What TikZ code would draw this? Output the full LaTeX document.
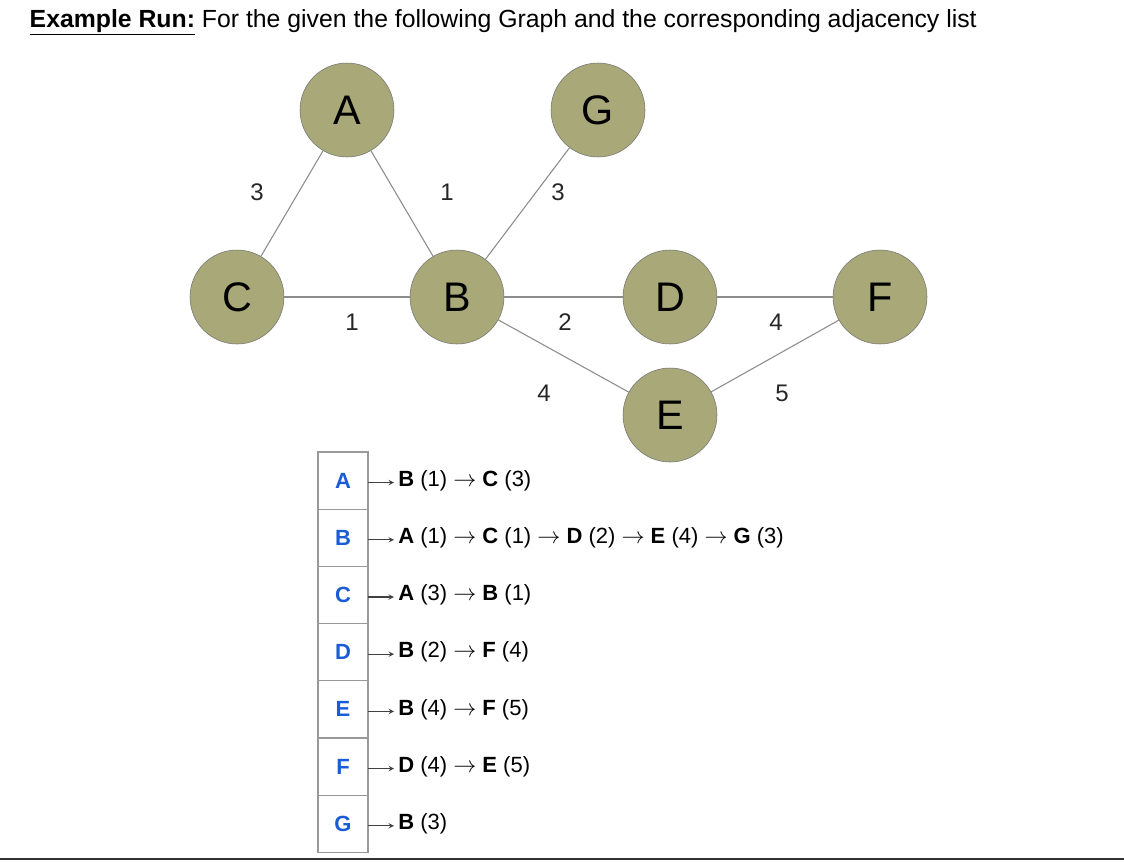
\documentclass[tikz,border=0pt]{standalone}
\usepackage{fontspec}
\setmainfont{Liberation Sans}
\begin{document}
\begin{tikzpicture}[x=0.75pt,y=-0.75pt,
  vert/.style={circle,draw=black!55,fill=olivec,minimum size=70.5pt,inner sep=0pt,font=\fontsize{31}{31}\selectfont},
  edge/.style={draw=black!45,line width=0.8pt},
  wlab/.style={font=\fontsize{18}{18}\selectfont,text=black!85},
  cell/.style={draw=black!40,line width=0.9pt,minimum width=37.5pt,minimum height=43pt,inner sep=0pt,text=cellblue,font=\fontsize{16.5}{16.5}\selectfont\bfseries},
  row/.style={anchor=west,font=\fontsize{16.5}{16.5}\selectfont,inner sep=0pt},
  arr/.style={draw=black!75,line width=0.8pt,-stealth}]
\definecolor{olivec}{HTML}{A8A878}
\definecolor{cellblue}{HTML}{1A5CD6}
\useasboundingbox (0,0) rectangle (1124,861);
\node[anchor=west,font=\fontsize{18.6}{18.6}\selectfont] (title) at (25,22) {\underline{\textbf{Example Run:}} For the given the following Graph and the corresponding adjacency list};
\node[vert] (A) at (347,110) {A};
\node[vert] (G) at (598,110) {G};
\node[vert] (C) at (237,297) {C};
\node[vert] (B) at (457,297) {B};
\node[vert] (D) at (670,297) {D};
\node[vert] (F) at (880,297) {F};
\node[vert] (E) at (670,415) {E};
\draw[edge] (A)--(C); \draw[edge] (A)--(B); \draw[edge] (B)--(G);
\draw[edge] (C)--(B); \draw[edge] (B)--(D); \draw[edge] (D)--(F);
\draw[edge] (B)--(E); \draw[edge] (E)--(F);
\node[wlab] (w1) at (257,192) {3};
\node[wlab] (w2) at (447,192) {1};
\node[wlab] (w3) at (558,192) {3};
\node[wlab] (w4) at (352,322) {1};
\node[wlab] (w5) at (565,322) {2};
\node[wlab] (w6) at (776,322) {4};
\node[wlab] (w7) at (544,393) {4};
\node[wlab] (w8) at (782,393) {5};
\foreach \n/\t [count=\i] in {A/{\textbf{B} (1) $\rightarrow$ \textbf{C} (3)},
  B/{\textbf{A} (1) $\rightarrow$ \textbf{C} (1) $\rightarrow$ \textbf{D} (2) $\rightarrow$ \textbf{E} (4) $\rightarrow$ \textbf{G} (3)},
  C/{\textbf{A} (3) $\rightarrow$ \textbf{B} (1)},
  D/{\textbf{B} (2) $\rightarrow$ \textbf{F} (4)},
  E/{\textbf{B} (4) $\rightarrow$ \textbf{F} (5)},
  F/{\textbf{D} (4) $\rightarrow$ \textbf{E} (5)},
  G/{\textbf{B} (3)}} {
  \node[cell] (c\n) at (343,{452+57.2*(\i-0.5)}) {\n};
  \coordinate (s\n) at (368,{452+57.2*(\i-0.5)+2});
  \coordinate (e\n) at (394,{452+57.2*(\i-0.5)+2});
  \node[row] (r\n) at (398,{452+57.2*(\i-0.5)}) {\t};
  \draw[arr] (s\n) -- (e\n);
}
\coordinate (l1) at (0,859); \coordinate (l2) at (1124,859);
\draw[line width=1.5pt,black!80] (l1)--(l2);
\end{tikzpicture}
\end{document}
